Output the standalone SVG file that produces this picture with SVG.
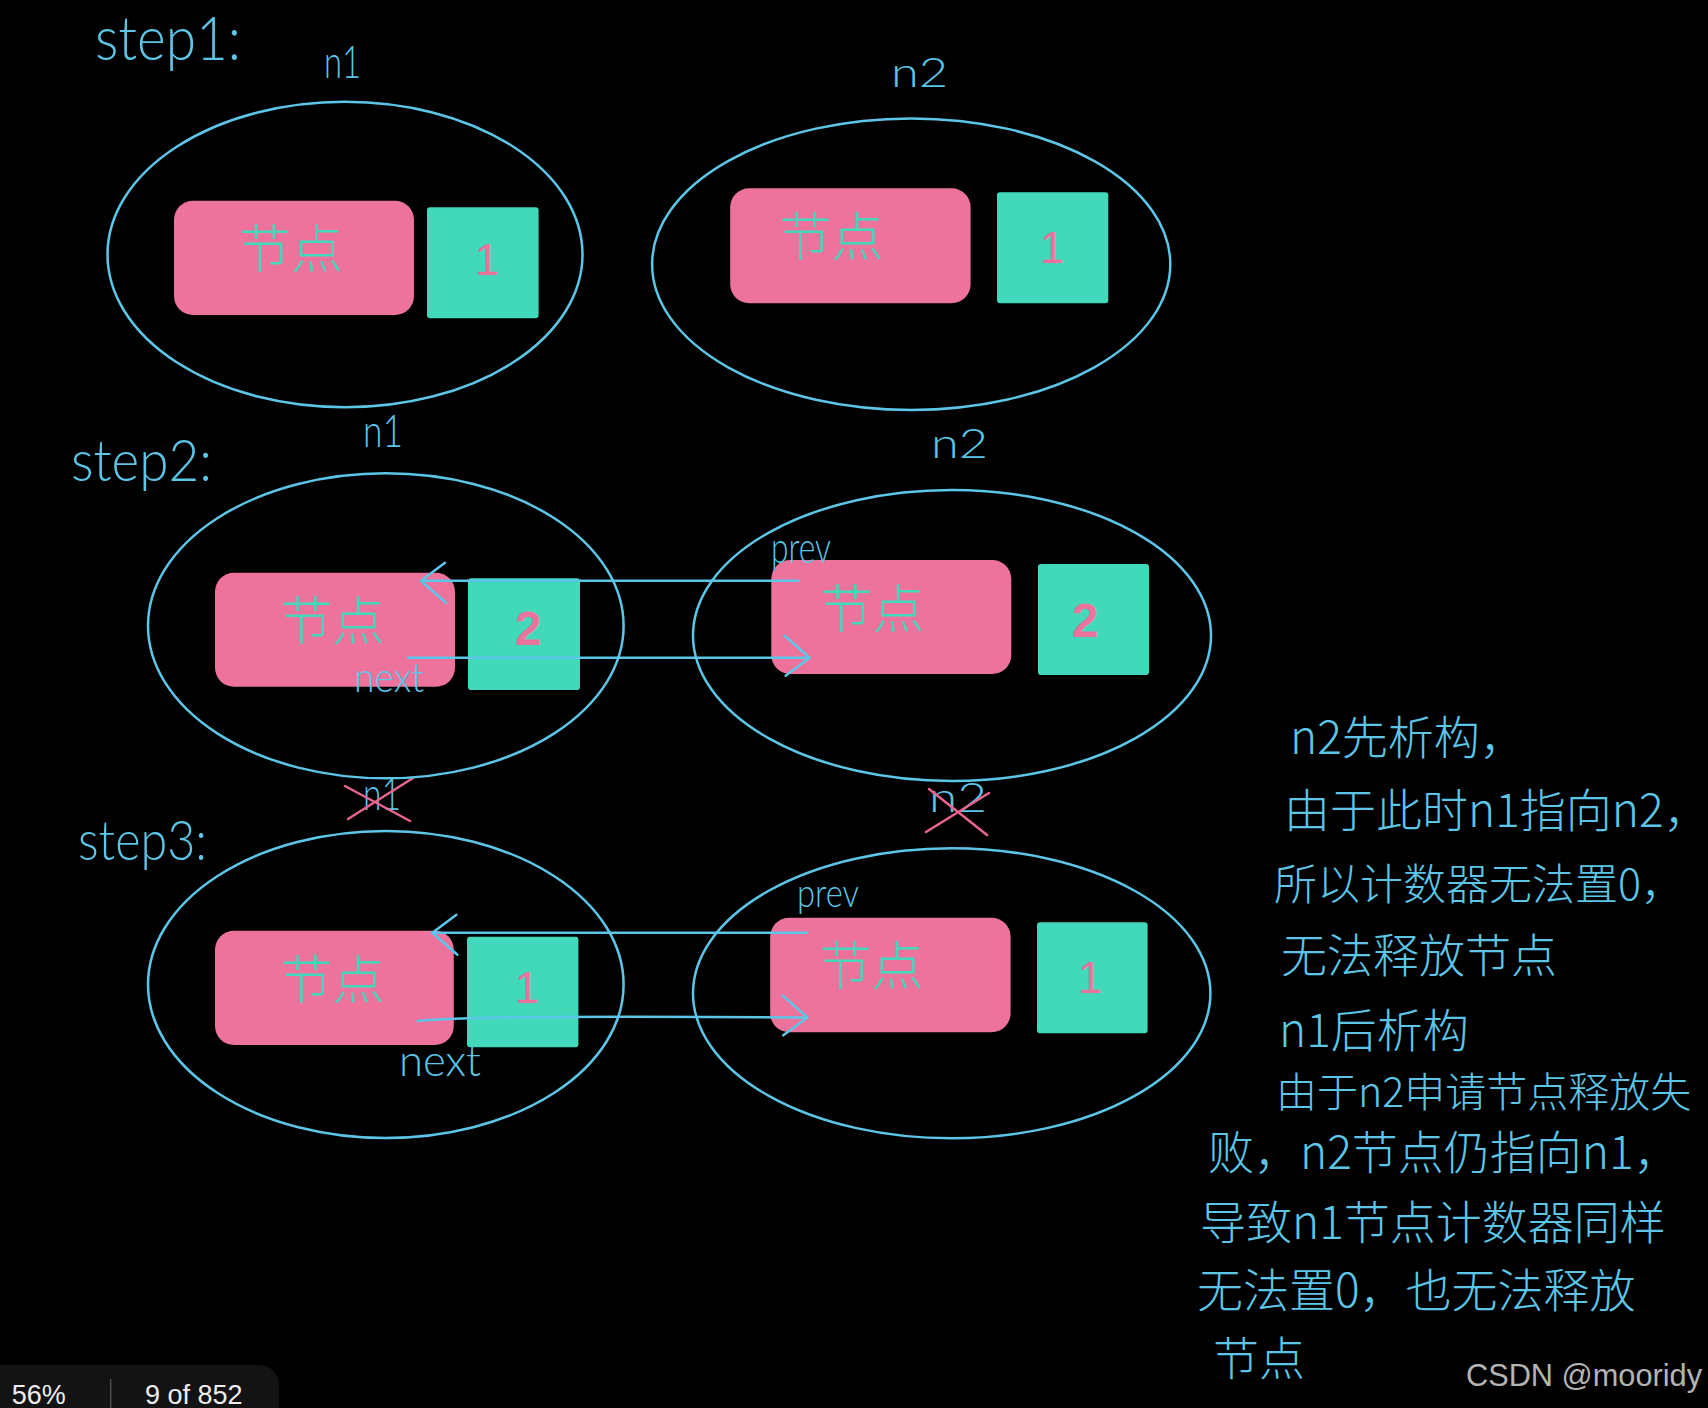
<svg xmlns="http://www.w3.org/2000/svg" width="1708" height="1408" viewBox="0 0 1708 1408">
<defs>
<style>
.bg{fill:#000}
.ell{fill:none;stroke:#5cc6e8;stroke-width:2.5}
.pink{fill:#ed739d}
.green{fill:#42d9bb}
.hw{font-family:Lato,"Open Sans","Liberation Sans",sans-serif;font-weight:300;fill:#5cc6e8}
.cn{font-family:"Noto Sans CJK SC","Noto Sans",sans-serif;font-weight:300;fill:#5cc6e8;font-size:46px}
.cn.sm{font-size:43px}
.cn.xs{font-size:41px}
.node-t{font-family:"Noto Sans CJK SC","Noto Sans",sans-serif;font-weight:300;fill:#42d9bb;font-size:52px}
.cnt{font-family:"Liberation Sans",Arial,sans-serif;fill:#ed739d;font-size:44px;text-anchor:middle}
.cnt2{font-family:"Liberation Sans",Arial,sans-serif;fill:#ed739d;font-size:48px;font-weight:bold;text-anchor:middle}
.link{fill:none;stroke:#5cc6e8;stroke-width:2.5;stroke-linecap:round}
.cross{fill:none;stroke:#e8658e;stroke-width:2.5;stroke-linecap:round}
.ui{font-family:"Liberation Sans",Arial,sans-serif;fill:#ededed;font-size:27px}
</style>
<marker id="chev" viewBox="-32 -30 40 60" markerWidth="40" markerHeight="60" markerUnits="userSpaceOnUse" refX="0" refY="0" orient="auto">
<path d="M-25,-22 L0,0 L-24,18" fill="none" stroke="#5cc6e8" stroke-width="2.5" stroke-linecap="round" stroke-linejoin="round"/>
</marker>
</defs>
<rect class="bg" x="0" y="0" width="1708" height="1408"/>

<!-- step labels -->
<g id="labels">
<text class="hw" x="95" y="60" font-size="62" textLength="146" lengthAdjust="spacingAndGlyphs">step1:</text>
<text class="hw" x="71" y="481" font-size="58" textLength="141" lengthAdjust="spacingAndGlyphs">step2:</text>
<text class="hw" x="78" y="860" font-size="56" textLength="129" lengthAdjust="spacingAndGlyphs">step3:</text>
<text class="hw" x="324" y="78" font-size="46" textLength="37" lengthAdjust="spacingAndGlyphs">n1</text>
<text class="hw" x="891" y="87" font-size="42" textLength="57" lengthAdjust="spacingAndGlyphs">n2</text>
<text class="hw" x="363" y="447" font-size="46" textLength="40" lengthAdjust="spacingAndGlyphs">n1</text>
<text class="hw" x="931" y="458" font-size="42" textLength="57" lengthAdjust="spacingAndGlyphs">n2</text>
<text class="hw" x="363" y="810" font-size="46" textLength="38" lengthAdjust="spacingAndGlyphs">n1</text>
<text class="hw" x="929" y="812" font-size="42" textLength="58" lengthAdjust="spacingAndGlyphs">n2</text>
<path class="cross" d="M345,786 L410,821 M348,819 L413,778"/>
<path class="cross" d="M929,789 L987,835 M926,832 L989,793"/>
</g>

<!-- step1 -->
<g id="step1-n1">
<ellipse class="ell" cx="345" cy="254.5" rx="237.5" ry="152.8"/>
<rect class="pink" x="174" y="200.7" width="240" height="114.3" rx="19"/>
<rect class="green" x="427" y="207.3" width="111.6" height="111" rx="3"/>
<text class="node-t" x="239" y="268">节点</text>
<text class="cnt" x="487" y="275">1</text>
</g>
<g id="step1-n2">
<ellipse class="ell" cx="911.2" cy="264.2" rx="259.1" ry="145.8"/>
<rect class="pink" x="730.2" y="188.3" width="240.4" height="115" rx="19"/>
<rect class="green" x="997" y="192.3" width="111.3" height="111" rx="3"/>
<text class="node-t" x="779.5" y="256">节点</text>
<text class="cnt" x="1052" y="263">1</text>
</g>

<!-- step2 -->
<g id="step2-n1">
<ellipse class="ell" cx="385.8" cy="625.8" rx="237.8" ry="152.5"/>
<rect class="pink" x="215" y="572.7" width="240" height="114" rx="19"/>
<rect class="green" x="468" y="578.3" width="112" height="111.7" rx="3"/>
<text class="node-t" x="280.6" y="640">节点</text>
<text class="cnt2" x="528" y="645">2</text>
</g>
<g id="step2-n2">
<ellipse class="ell" cx="952" cy="635.5" rx="259" ry="145.5"/>
<rect class="pink" x="771.3" y="560" width="240" height="114" rx="19"/>
<rect class="green" x="1038" y="564" width="111" height="111" rx="3"/>
<text class="node-t" x="820.5" y="628">节点</text>
<text class="cnt2" x="1085" y="637">2</text>
</g>

<!-- step3 -->
<g id="step3-n1">
<ellipse class="ell" cx="385.8" cy="984.5" rx="237.8" ry="153.5"/>
<rect class="pink" x="215" y="930.7" width="238.8" height="114.3" rx="19"/>
<rect class="green" x="467" y="936.7" width="111.4" height="110.6" rx="3"/>
<text class="node-t" x="280.6" y="999">节点</text>
<text class="cnt" x="527" y="1003">1</text>
</g>
<g id="step3-n2">
<ellipse class="ell" cx="951.7" cy="993.3" rx="258.7" ry="145"/>
<rect class="pink" x="770.2" y="917.7" width="240.4" height="114.6" rx="19"/>
<rect class="green" x="1037" y="922.3" width="110.6" height="111" rx="3"/>
<text class="node-t" x="819.5" y="985">节点</text>
<text class="cnt" x="1090" y="993">1</text>
</g>

<!-- connectors -->
<g id="connectors">
<path class="link" d="M798.5,580.7 L421,580.7" marker-end="url(#chev)"/>
<path class="link" d="M408,657.7 L809.6,657.7" marker-end="url(#chev)"/>
<path class="link" d="M807.4,932.7 L432.4,932.7" marker-end="url(#chev)"/>
<path class="link" d="M417.7,1021 Q455,1015 807.4,1017.5" marker-end="url(#chev)"/>
<text class="hw" x="771" y="563" font-size="44" textLength="60" lengthAdjust="spacingAndGlyphs">prev</text>
<text class="hw" x="354" y="692" font-size="42" textLength="70" lengthAdjust="spacingAndGlyphs">next</text>
<text class="hw" x="797" y="907" font-size="40" textLength="62" lengthAdjust="spacingAndGlyphs">prev</text>
<text class="hw" x="399" y="1076" font-size="44" textLength="82" lengthAdjust="spacingAndGlyphs">next</text>
</g>

<!-- explanation -->
<g id="note">
<text class="cn" x="1290" y="754">n2先析构，</text>
<text class="cn" x="1284" y="827">由于此时n1指向n2，</text>
<text class="cn sm" x="1274" y="900">所以计数器无法置0，</text>
<text class="cn" x="1281" y="972">无法释放节点</text>
<text class="cn" x="1279" y="1047">n1后析构</text>
<text class="cn xs" x="1276" y="1107">由于n2申请节点释放失</text>
<text class="cn" x="1208" y="1169">败，n2节点仍指向n1，</text>
<text class="cn" x="1200" y="1239">导致n1节点计数器同样</text>
<text class="cn" x="1197" y="1307">无法置0，也无法释放</text>
<text class="cn" x="1213" y="1375">节点</text>
</g>

<text x="1466" y="1386" font-family="'Liberation Sans',Arial,sans-serif" font-size="31" fill="#b4b4b4" textLength="236" lengthAdjust="spacingAndGlyphs">CSDN @mooridy</text>

<g id="statusbar">
<rect x="-20" y="1365" width="299" height="80" rx="20" fill="#131313"/>
<line x1="110.7" y1="1379" x2="110.7" y2="1408" stroke="#4d4d4d" stroke-width="1.5"/>
<text class="ui" x="11.7" y="1404">56%</text>
<text class="ui" x="145" y="1404">9 of 852</text>
</g>
</svg>
